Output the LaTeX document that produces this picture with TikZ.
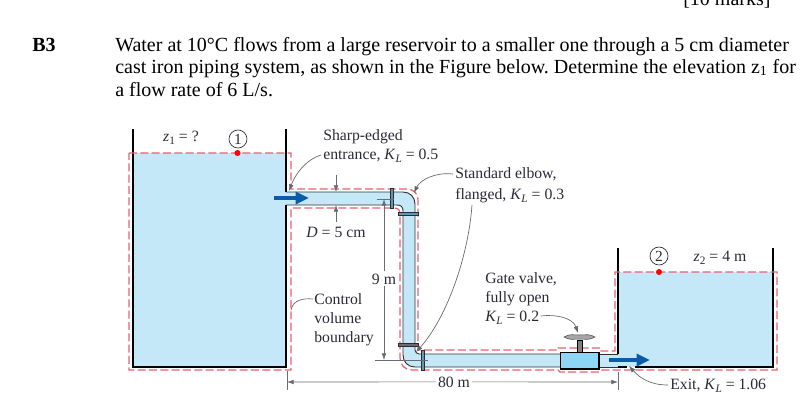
\documentclass[tikz,border=0pt]{standalone}
\usepackage{fontspec}
\setmainfont{Liberation Serif}
\usetikzlibrary{arrows.meta}
\definecolor{water}{HTML}{C5E8F8}
\definecolor{valvec}{HTML}{8FD6F6}
\definecolor{cvred}{HTML}{E8606E}
\definecolor{flow}{HTML}{0B5CA8}
\definecolor{ink}{HTML}{2B2B38}
\definecolor{leader}{HTML}{666666}
\newcommand{\KL}{\textit{K}\raisebox{-2.5pt}{\fontsize{8.5pt}{10pt}\selectfont\textit{L}}}
\newcommand{\zz}[1]{\textit{z}\raisebox{-2.5pt}{\fontsize{8.5pt}{10pt}\selectfont #1}}
\tikzset{
  wall/.style={line width=2.2pt,black},
  pipewall/.style={line width=0.7pt,black!80},
  cv/.style={line width=0.9pt,cvred,dash pattern=on 6pt off 2.5pt},
  flowarrow/.style={line width=2.5pt,flow,-{Triangle[length=10pt,width=9pt]}},
  dim/.style={line width=0.5pt,ink!70,-{Latex[length=5pt,width=3.5pt]}},
  ext/.style={line width=0.5pt,ink!70},
  lead/.style={line width=0.5pt,leader},
  leadarrow/.style={lead,-{Latex[length=5pt,width=3.5pt]}},
  lab/.style={anchor=base west,inner sep=0pt,text=ink,font=\fontsize{11.8pt}{14pt}\selectfont},
  labc/.style={anchor=base,inner sep=1.5pt,text=ink,font=\fontsize{11.8pt}{14pt}\selectfont},
  body/.style={anchor=base west,inner sep=0pt,text=black,font=\frenchspacing\fontsize{15pt}{18pt}\selectfont},
  flange/.style={draw=ink,line width=0.7pt,fill=valvec!70!black},
  dot/.style={circle,fill=red,inner sep=0pt,minimum size=4.5pt},
  num/.style={circle,draw=ink,line width=0.5pt,inner sep=0pt,minimum size=13.5pt,text=ink,font=\fontsize{11.5pt}{12pt}\selectfont},
}
\begin{document}
\begin{tikzpicture}[x=0.75pt,y=-0.75pt]
\useasboundingbox (0,0) rectangle (812,408);
\clip (0,0) rectangle (812,408);
\fill[white] (0,0) rectangle (812,408);
% water
\fill[water] (133,153) rectangle (286,367);
\fill[water] (618,272) rectangle (773,367);
\fill[water] (286,192) -- (403,192) .. controls (410,192) and (415,197) .. (415,204) -- (415,350) .. controls (415,352) and (417,354) .. (419,354) -- (618,354) -- (618,367) -- (415,367)
  .. controls (408,367) and (403,362) .. (403,355) -- (403,211) .. controls (403,207) and (401,205) .. (397,205) -- (286,205) -- cycle;
% pipe walls
\draw[pipewall] (286,192) -- (403,192) .. controls (410,192) and (415,197) .. (415,204) -- (415,350) .. controls (415,352) and (417,354) .. (419,354) -- (560,354);
\draw[pipewall] (286,205) -- (397,205) .. controls (401,205) and (403,207) .. (403,211) -- (403,355) .. controls (403,362) and (408,367) .. (415,367) -- (560,367);
\draw[pipewall] (599,354) -- (618,354);
\draw[pipewall] (599,367) -- (627,367);
% tanks
\draw[wall,line join=miter] (133,129) -- (133,367) -- (286,367) -- (286,205);
\draw[wall] (286,129) -- (286,192);
\draw[wall] (618,248) -- (618,354);
\draw[wall,line join=miter] (635,367) -- (773,367) -- (773,248);
\draw[wall] (618,367) -- (627,367);
% control volume
\draw[cv] (129,153) -- (291,153) -- (291,189) -- (406,189) .. controls (414,189) and (418,193) .. (418,201) -- (418,350) -- (558,350) -- (558,348) -- (600,348) -- (600,351) -- (615,351) -- (615,272) -- (777,272) -- (777,370) -- (602,370) -- (600,372) -- (560,372) -- (558,370) -- (412,370) .. controls (405,370) and (400,365) .. (400,358) -- (400,214) .. controls (400,210) and (398,208) .. (394,208) -- (291,208) -- (291,370) -- (129,370) -- cycle;
% flanges
\node[flange,minimum width=2.4pt,minimum height=15pt,inner sep=0pt] (fl1) at (392,198) {};
\draw[flange] (398,212.5) rectangle (418,215.5);
\draw[flange,fill=ink!70] (398,343.5) rectangle (418,346.5);
\draw[flange] (421.5,350) rectangle (424.5,370);
% valve
\draw[line width=0.3pt,fill=black!50] (577,340) rectangle (582,352);
\draw[line width=0.4pt,draw=black!70,fill=black!35] (564,337) .. controls (570,333.5) and (573,335) .. (579.5,335) .. controls (586,335) and (589,333.5) .. (595,337) .. controls (589,340.5) and (586,339) .. (579.5,339) .. controls (573,339) and (570,340.5) .. (564,337) -- cycle;
\node[draw=black,line width=1pt,fill=valvec,minimum width=29pt,minimum height=12.5pt,inner sep=0pt] (valve) at (579.5,360.5) {};
% flow arrows
\coordinate (a1s) at (274,198); \coordinate (a1e) at (309,198);
\coordinate (a2s) at (609,360); \coordinate (a2e) at (650,360);
\draw[flowarrow] (a1s) -- (a1e);
\draw[flowarrow] (a2s) -- (a2e);
% points
\node[dot] (p1) at (237.5,153) {};
\node[dot] (p2) at (659,272) {};
\node[num] (n1) at (238,139) {1};
\node[num] (n2) at (659,256) {2};
\node[labc] (z1) at (181,141) {\zz{1} = ?};
\node[labc] (z2) at (720,261) {\zz{2} = 4 m};
% labels
\node[lab] (se1) at (323,140) {Sharp-edged};
\node[lab] (se2) at (323,159) {entrance, \KL{} = 0.5};
\node[lab] (el1) at (455,178) {Standard elbow,};
\node[lab] (el2) at (455,199) {flanged, \KL{} = 0.3};
\node[lab] (gv1) at (485,283) {Gate valve,};
\node[lab] (gv2) at (485,302) {fully open};
\node[lab] (gv3) at (485,321) {\KL{} = 0.2};
\node[lab] (cb1) at (314,304) {Control};
\node[lab] (cb2) at (314,323) {volume};
\node[lab] (cb3) at (314,342) {boundary};
\node[lab] (ex) at (670,389) {Exit, \KL{} = 1.06};
\node[labc] (dl) at (336,237) {\textit{D} = 5 cm};
\node[labc] (nm) at (384,284) {9 m};
\node[labc] (em) at (454,387) {80 m};
% leaders
\coordinate (tSE) at (289,191); \coordinate (tEl) at (414,193); \coordinate (tEl2) at (416,352);
\coordinate (tCV) at (291,310); \coordinate (tGV) at (578,333); \coordinate (tEx) at (629,366);
\draw[leadarrow] (321,155) .. controls (305,160) and (295,175) .. (tSE);
\draw[leadarrow] (453,174) .. controls (435,172) and (420,180) .. (tEl);
\draw[leadarrow] (472,205) .. controls (468,260) and (445,320) .. (tEl2);
\draw[lead] (313,299) .. controls (303,298) and (293,300) .. (tCV);
\draw[leadarrow] (541,316) .. controls (556,314) and (573,318) .. (tGV);
\draw[leadarrow] (668,385) .. controls (650,385) and (640,378) .. (tEx);
% dimensions
\coordinate (d1) at (336,175); \coordinate (d2) at (336,192);
\coordinate (d3) at (336,222); \coordinate (d4) at (336,205);
\draw[dim] (d1) -- (d2);
\draw[dim] (d3) -- (d4);
\coordinate (t1a) at (377,199); \coordinate (t1b) at (394,199);
\coordinate (t2a) at (375,360); \coordinate (t2b) at (428,360);
\draw[ext] (t1a) -- (t1b);
\draw[ext] (t2a) -- (t2b);
\draw[dim] (nm.north) -- (384,199);
\draw[dim] (nm.south) -- (384,360);
\coordinate (x1a) at (287,371); \coordinate (x1b) at (287,390);
\coordinate (x2a) at (618,372); \coordinate (x2b) at (618,390);
\draw[ext] (x1a) -- (x1b);
\draw[ext] (x2a) -- (x2b);
\draw[dim] (em.west) -- (287,382);
\draw[dim] (em.east) -- (618,382);
% question text
\node[body] (mk) at (683,5) {[10 marks]};
\node[body,font=\bfseries\fontsize{15pt}{18pt}\selectfont] (b3) at (32,51) {B3};
\node[body] (l1) at (115,51) {Water at 10°C flows from a large reservoir to a smaller one through a 5 cm diameter};
\node[body] (l2) at (115,73) {cast iron piping system, as shown in the Figure below. Determine the elevation z\textsubscript{1} for};
\node[body] (l3) at (115,96) {a flow rate of 6 L/s.};
\end{tikzpicture}
\end{document}
